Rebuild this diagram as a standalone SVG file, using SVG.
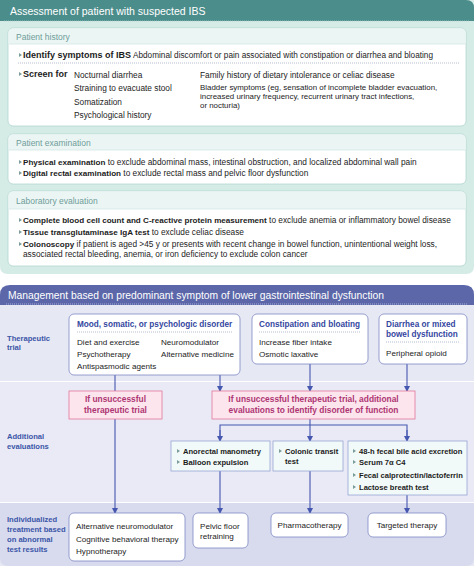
<svg xmlns="http://www.w3.org/2000/svg" xmlns:xlink="http://www.w3.org/1999/xlink" width="474" height="566" viewBox="0 0 474 566">
<defs>
<style>
text{font-family:"Liberation Sans",Arial,sans-serif;font-size:8.3px;fill:#1c1c1c}
.b{font-weight:bold;font-size:8.1px}
.bb{font-weight:bold;font-size:9px}
.hdr{font-size:10.3px;fill:#fff}
.sec{font-size:8.5px;fill:#6f9c9a}
.sm{font-size:7.9px}
.box{fill:#fff;stroke:#b3d6d0;stroke-width:0.8}
.band{fill:#ebf6f4}
.node{fill:#fff;stroke:#7f89c3;stroke-width:0.8}
.nt{font-size:8.1px}
.ev{fill:#f2faf9;stroke:#97a6d4;stroke-width:0.8}
.eb{font-size:7.6px;font-weight:bold}
.nh{font-size:8.2px;font-weight:bold;fill:#3446a0}
.pink{fill:#fde5ed;stroke:#e27799;stroke-width:0.8}
.pt{font-size:8.4px;font-weight:bold;fill:#ad3573}
.lbl{font-size:7.6px;font-weight:bold;fill:#3b56a8}
.conn{stroke:#4657b0;stroke-width:1.1;fill:none}
.dot{stroke:#9aa0b8;stroke-width:0.7;stroke-dasharray:1 1;fill:none}
.bul{fill:#7b9c9a}
</style>
<marker id="ah" markerUnits="userSpaceOnUse" markerWidth="6" markerHeight="6" refX="5" refY="3" orient="auto">
<path d="M0,0 L6,3 L0,6z" fill="#4657b0"/>
</marker>
<path id="bu" d="M0,-2 L3,0 L0,2z"/>
</defs>

<!-- Top panel -->
<g id="assessment">
<path d="M0,0 H474 V266 Q474,274 466,274 H8 Q0,274 0,266 Z" fill="#d5ebe6"/>
<path d="M0,0 H466 Q474,0 474,8 V21 H0 Z" fill="#4b8d8b"/>
<text class="hdr" x="10" y="14.5" style="font-size:10.5px">Assessment of patient with suspected IBS</text>
<line x1="4" y1="21" x2="470" y2="21" stroke="#a9d0cb" stroke-width="0.8" stroke-dasharray="1 1"/>
</g>

<g id="patient-history">
<rect class="box" x="8" y="28" width="458" height="98" rx="5"/>
<path class="band" d="M8.4,44 V33 Q8.4,28.4 13,28.4 H461 Q465.6,28.4 465.6,33 V44 Z"/>
<line x1="8.4" y1="44" x2="465.6" y2="44" stroke="#d2e8e4" stroke-width="0.8"/>
<text class="sec" x="16" y="40">Patient history</text>
<use xlink:href="#bu" x="19" y="55" class="bul"/>
<text class="bb" x="23" y="58">Identify symptoms of IBS</text>
<text x="133" y="58" textLength="300" lengthAdjust="spacingAndGlyphs">Abdominal discomfort or pain associated with constipation or diarrhea and bloating</text>
<line class="dot" x1="18" y1="63" x2="460" y2="63"/>
<use xlink:href="#bu" x="19" y="74" class="bul"/>
<text class="bb" x="23" y="77">Screen for</text>
<text x="74" y="78">Nocturnal diarrhea</text>
<text x="74" y="91">Straining to evacuate stool</text>
<text x="74" y="105">Somatization</text>
<text x="74" y="118">Psychological history</text>
<text x="200" y="78">Family history of dietary intolerance or celiac disease</text>
<text class="sm" x="200" y="90">Bladder symptoms (eg, sensation of incomplete bladder evacuation,</text>
<text class="sm" x="200" y="99">increased urinary frequency, recurrent urinary tract infections,</text>
<text class="sm" x="200" y="108">or nocturia)</text>
</g>

<g id="patient-examination">
<rect class="box" x="8" y="134" width="458" height="50" rx="5"/>
<path class="band" d="M8.4,150 V139 Q8.4,134.4 13,134.4 H461 Q465.6,134.4 465.6,139 V150 Z"/>
<line x1="8.4" y1="150" x2="465.6" y2="150" stroke="#d2e8e4" stroke-width="0.8"/>
<text class="sec" x="16" y="146">Patient examination</text>
<use xlink:href="#bu" x="19" y="162" class="bul"/>
<text x="23" y="165"><tspan class="b">Physical examination</tspan> to exclude abdominal mass, intestinal obstruction, and localized abdominal wall pain</text>
<use xlink:href="#bu" x="19" y="173" class="bul"/>
<text x="23" y="176"><tspan class="b">Digital rectal examination</tspan> to exclude rectal mass and pelvic floor dysfunction</text>
</g>

<g id="laboratory-evaluation">
<rect class="box" x="8" y="191" width="458" height="75" rx="5"/>
<path class="band" d="M8.4,209 V196 Q8.4,191.4 13,191.4 H461 Q465.6,191.4 465.6,196 V209 Z"/>
<line x1="8.4" y1="209" x2="465.6" y2="209" stroke="#d2e8e4" stroke-width="0.8"/>
<text class="sec" x="16" y="204">Laboratory evaluation</text>
<use xlink:href="#bu" x="19" y="220" class="bul"/>
<text x="23" y="223"><tspan class="b">Complete blood cell count and C-reactive protein measurement</tspan> to exclude anemia or inflammatory bowel disease</text>
<use xlink:href="#bu" x="19" y="232" class="bul"/>
<text x="23" y="235"><tspan class="b">Tissue transglutaminase IgA test</tspan> to exclude celiac disease</text>
<use xlink:href="#bu" x="19" y="244" class="bul"/>
<text x="23" y="247"><tspan class="b">Colonoscopy</tspan> if patient is aged &gt;45 y or presents with recent change in bowel function, unintentional weight loss,</text>
<text x="23" y="257">associated rectal bleeding, anemia, or iron deficiency to exclude colon cancer</text>
</g>

<!-- Bottom panel -->
<g id="management">
<path d="M0,295 Q0,285 10,285 H464 Q474,285 474,295 V566 H0 Z" fill="#e6e8f3"/>
<path d="M0,295 Q0,285 10,285 H464 Q474,285 474,295 V305 H0 Z" fill="#5b67a9"/>
<text class="hdr" x="8" y="299">Management based on predominant symptom of lower gastrointestinal dysfunction</text>
<line x1="6" y1="304" x2="468" y2="304" stroke="#bcc3e3" stroke-width="0.8" stroke-dasharray="1 1"/>
<rect x="0" y="382" width="474" height="120" fill="#e9eaf5"/>
<line x1="0" y1="381.5" x2="474" y2="381.5" stroke="#fff" stroke-width="1"/>
<path d="M0,503 H474 V558 Q474,566 466,566 H8 Q0,566 0,558 Z" fill="#d8dbee"/>
<line x1="0" y1="502.5" x2="474" y2="502.5" stroke="#fff" stroke-width="1"/>
<text class="lbl" x="7" y="341">Therapeutic</text>
<text class="lbl" x="7" y="350">trial</text>
<text class="lbl" x="7" y="439">Additional</text>
<text class="lbl" x="7" y="449">evaluations</text>
<text class="lbl" x="7" y="522">Individualized</text>
<text class="lbl" x="7" y="532">treatment based</text>
<text class="lbl" x="7" y="542">on abnormal</text>
<text class="lbl" x="7" y="552">test results</text>
</g>

<g id="connectors">
<line class="conn" x1="115" y1="375" x2="115" y2="391"/>
<line class="conn" x1="115" y1="419" x2="115" y2="513" marker-end="url(#ah)"/>
<line class="conn" x1="220" y1="375" x2="220" y2="391" marker-end="url(#ah)"/>
<line class="conn" x1="310" y1="364" x2="310" y2="391" marker-end="url(#ah)"/>
<line class="conn" x1="407" y1="364" x2="407" y2="391" marker-end="url(#ah)"/>
<line class="conn" x1="310" y1="419" x2="310" y2="441" marker-end="url(#ah)"/>
<path class="conn" d="M220,441 V425 H407 V441"/>
<line class="conn" x1="220" y1="430" x2="220" y2="441" marker-end="url(#ah)"/>
<line class="conn" x1="407" y1="430" x2="407" y2="441" marker-end="url(#ah)"/>
<line class="conn" x1="220" y1="471" x2="220" y2="513" marker-end="url(#ah)"/>
<line class="conn" x1="310" y1="471" x2="310" y2="513" marker-end="url(#ah)"/>
<line class="conn" x1="407" y1="495" x2="407" y2="513" marker-end="url(#ah)"/>
</g>

<g id="mood">
<rect class="node" x="69" y="314" width="171" height="61" rx="5"/>
<text class="nh" x="77" y="327">Mood, somatic, or psychologic disorder</text>
<line class="dot" x1="77" y1="332" x2="232" y2="332"/>
<text class="nt" x="77" y="345">Diet and exercise</text>
<text class="nt" x="77" y="357">Psychotherapy</text>
<text class="nt" x="77" y="369">Antispasmodic agents</text>
<text class="nt" x="161" y="345">Neuromodulator</text>
<text class="nt" x="161" y="357">Alternative medicine</text>
</g>

<g id="constipation">
<rect class="node" x="252" y="314" width="116" height="50" rx="5"/>
<text class="nh" x="259" y="327">Constipation and bloating</text>
<line class="dot" x1="259" y1="332" x2="361" y2="332"/>
<text class="nt" x="259" y="345">Increase fiber intake</text>
<text class="nt" x="259" y="357">Osmotic laxative</text>
</g>

<g id="diarrhea">
<rect class="node" x="379" y="314" width="88" height="50" rx="5"/>
<text class="nh" x="386" y="327">Diarrhea or mixed</text>
<text class="nh" x="386" y="337">bowel dysfunction</text>
<line class="dot" x1="386" y1="342" x2="460" y2="342"/>
<text class="nt" x="386" y="356">Peripheral opioid</text>
</g>

<g id="unsuccessful-1">
<rect class="pink" x="69" y="391" width="93" height="28"/>
<text class="pt" x="115.5" y="402" text-anchor="middle">If unsuccessful</text>
<text class="pt" x="115.5" y="413" text-anchor="middle">therapeutic trial</text>
</g>

<g id="unsuccessful-2">
<rect class="pink" x="212" y="391" width="203" height="28"/>
<text class="pt" x="313.5" y="402" text-anchor="middle">If unsuccessful therapeutic trial, additional</text>
<text class="pt" x="313.5" y="413" text-anchor="middle">evaluations to identify disorder of function</text>
</g>

<g id="anorectal">
<rect class="ev" x="171" y="441" width="99" height="30"/>
<use xlink:href="#bu" x="177" y="451" class="bul"/>
<text class="eb" x="183" y="454">Anorectal manometry</text>
<use xlink:href="#bu" x="177" y="462" class="bul"/>
<text class="eb" x="183" y="465">Balloon expulsion</text>
</g>

<g id="colonic">
<rect class="ev" x="273" y="441" width="70" height="30"/>
<use xlink:href="#bu" x="279" y="451" class="bul"/>
<text class="eb" x="285" y="454">Colonic transit</text>
<text class="eb" x="285" y="464">test</text>
</g>

<g id="tests">
<rect class="ev" x="348" y="441" width="119" height="54"/>
<use xlink:href="#bu" x="353" y="451" class="bul"/>
<text class="eb" x="359" y="454">48-h fecal bile acid excretion</text>
<use xlink:href="#bu" x="353" y="462" class="bul"/>
<text class="eb" x="359" y="465">Serum 7α C4</text>
<use xlink:href="#bu" x="353" y="475" class="bul"/>
<text class="eb" x="359" y="478">Fecal calprotectin/lactoferrin</text>
<use xlink:href="#bu" x="353" y="487" class="bul"/>
<text class="eb" x="359" y="490">Lactose breath test</text>
</g>

<g id="alternative">
<rect class="node" x="69" y="513" width="116" height="48" rx="5"/>
<text class="nt" x="76" y="529">Alternative neuromodulator</text>
<text class="nt" x="76" y="542">Cognitive behavioral therapy</text>
<text class="nt" x="76" y="554">Hypnotherapy</text>
</g>

<g id="pelvic">
<rect class="node" x="193" y="513" width="55" height="35" rx="5"/>
<text class="nt" x="200" y="529">Pelvic floor</text>
<text class="nt" x="200" y="539">retraining</text>
</g>

<g id="pharmacotherapy">
<rect class="node" x="271" y="513" width="77" height="24" rx="5"/>
<text class="nt" x="309.5" y="528" text-anchor="middle">Pharmacotherapy</text>
</g>

<g id="targeted">
<rect class="node" x="368" y="513" width="78" height="24" rx="5"/>
<text class="nt" x="407" y="528" text-anchor="middle">Targeted therapy</text>
</g>
</svg>
